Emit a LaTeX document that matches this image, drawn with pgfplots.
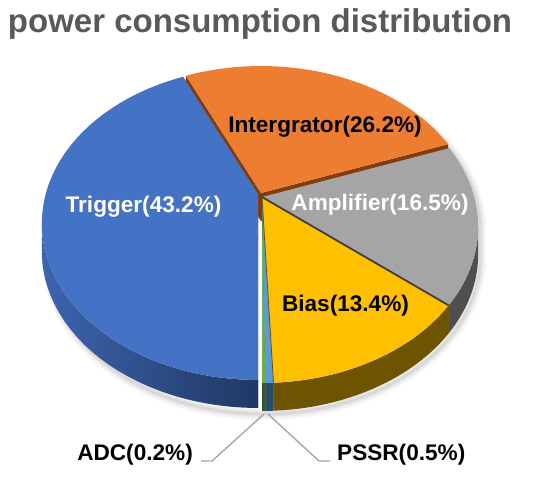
\documentclass[border=0pt]{standalone}
\usepackage{pgfplots}
\pgfplotsset{compat=1.18}
\usepackage{pgfplotstable}
\usepackage{fontspec}
\setmainfont{Liberation Sans}

\definecolor{cTrig}{HTML}{4472C4}
\definecolor{cInt}{HTML}{ED7D31}
\definecolor{cAmp}{HTML}{A5A5A5}
\definecolor{cBias}{HTML}{FFC000}
\definecolor{cPSSR}{HTML}{5B9BD5}
\definecolor{cADC}{HTML}{70AD47}
\definecolor{sTrigA}{HTML}{3E64AE}
\definecolor{sTrigB}{HTML}{1F3864}
\definecolor{sInt}{HTML}{843C0C}
\definecolor{sAmp}{HTML}{4F4F4F}
\definecolor{sBias}{HTML}{6E5400}
\definecolor{sPSSR}{HTML}{2A4D6E}
\definecolor{sADC}{HTML}{375623}
\definecolor{titlegray}{HTML}{595959}
\definecolor{leader}{HTML}{A6A6A6}

\pgfplotsset{
  top0/.style={fill=cTrig}, top1/.style={fill=cInt}, top2/.style={fill=cAmp},
  top3/.style={fill=cBias}, top4/.style={fill=cPSSR}, top5/.style={fill=cADC},
  side0/.style={left color=sTrigA, right color=sTrigB},
  side1/.style={fill=sInt}, side2/.style={fill=sAmp},
  side3/.style={fill=sBias},
  side4/.style={fill=sPSSR}, side5/.style={fill=sADC},
  cut0/.style={fill=sTrigB}, cut1/.style={fill=sInt}, cut2/.style={fill=sAmp},
  cut3/.style={fill=sBias}, cut4/.style={fill=sPSSR}, cut5/.style={fill=sADC},
  edge0/.style={draw=none}, edge1/.style={draw=none},
  edge2/.style={draw=sAmp!80!black, line width=1.8bp},
  edge3/.style={draw=sBias, line width=0.8bp},
  edge4/.style={draw=none}, edge5/.style={draw=none},
}

% share of each part (percent), and small explosion offset of each slice (px)
\pgfplotstableread{
name value dx dy
Trigger 43.2 -4 -3
Intergrator 26.2 -1 -4
Amplifier 16.5 0 0
Bias 13.4 0 0
PSSR 0.5 0 0
ADC 0.2 0 0
}\piedata

% projection of the tilted disc (image pixels, y downwards)
\def\pcx{262}\def\pcy{197}\def\pk{212.3}\def\pkk{150.9}\def\pp{0.1885}\def\pd{28}

\newcommand\addpt[4]{%
  \pgfmathsetmacro\pu{cos(#1)}%
  \pgfmathsetmacro\pv{sin(#1)}%
  \pgfmathsetmacro\pX{\pcx+#2+\pk*\pu/(1+\pp*\pv)}%
  \pgfmathsetmacro\pY{\pcy+#3+#4-\pkk*\pv/(1+\pp*\pv)}%
  \xdef\acc{\acc(\pX,\pY)}%
}
\newcommand\addarc[5]{%
  \pgfmathsetmacro\aspan{(#2)-(#1)}%
  \pgfmathtruncatemacro\nst{max(2,ceil(abs(\aspan)/2))}%
  \foreach \i in {0,...,\nst}{%
    \pgfmathsetmacro\ang{(#1)+\aspan*(\i/\nst)}%
    \addpt{\ang}{#3}{#4}{#5}%
  }%
}
\newcommand\appendplot[2]{%
  \xdef#1{\unexpanded\expandafter{#1}\noexpand\addplot[#2,draw=none] coordinates {\acc}--cycle;}%
}
\newcommand\appendline[2]{%
  \xdef#1{\unexpanded\expandafter{#1}\noexpand\addplot[#2] coordinates {\acc};}%
}
\newcommand\appendloop[2]{%
  \xdef#1{\unexpanded\expandafter{#1}\noexpand\addplot[#2] coordinates {\acc}--cycle;}%
}

% soft shadow round the silhouette
\gdef\acc{}
\addarc{349.1}{550.9}{2}{3}{0}
\addarc{190.9}{349.1}{2}{3}{\pd}
\gdef\shadowcmds{}
\appendloop\shadowcmds{draw=black, opacity=0.035, line width=12bp}
\appendloop\shadowcmds{draw=black, opacity=0.035, line width=8bp}
\appendloop\shadowcmds{draw=black, opacity=0.04, line width=5bp}
\appendloop\shadowcmds{draw=black, opacity=0.05, line width=2.5bp}

\gdef\cum{0}
\gdef\cutcmds{}\gdef\sidecmds{}\gdef\topcmds{}\gdef\edgecmds{}
\foreach \r in {0,...,5}{%
  \pgfplotstablegetelem{\r}{value}\of\piedata\let\sval\pgfplotsretval
  \pgfplotstablegetelem{\r}{dx}\of\piedata\let\sdx\pgfplotsretval
  \pgfplotstablegetelem{\r}{dy}\of\piedata\let\sdy\pgfplotsretval
  \pgfmathsetmacro\aone{-90-3.6*\cum}%
  \pgfmathsetmacro\atwo{-90-3.6*(\cum+\sval)}%
  \pgfmathsetmacro\cX{\pcx+\sdx}%
  \pgfmathsetmacro\cY{\pcy+\sdy}%
  \pgfmathsetmacro\cYb{\pcy+\sdy+\pd}%
  \xdef\acc{(\cX,\cY)}%
  \addarc{\aone}{\atwo}{\sdx}{\sdy}{0}%
  \appendplot\topcmds{top\r}%
  \xdef\acc{(\cX,\cY)}%
  \addpt{\atwo}{\sdx}{\sdy}{0}%
  \appendline\edgecmds{edge\r}%
  \foreach \ca in {\aone,\atwo}{%
    \xdef\acc{(\cX,\cY)}%
    \addpt{\ca}{\sdx}{\sdy}{0}%
    \addpt{\ca}{\sdx}{\sdy}{\pd}%
    \xdef\acc{\acc(\cX,\cYb)}%
    \appendplot\cutcmds{cut\r}%
  }%
  \foreach \w in {0,-360}{%
    \pgfmathsetmacro\hiA{min(\aone,-10.9+\w)}%
    \pgfmathsetmacro\loA{max(\atwo,-169.1+\w)}%
    \pgfmathsetmacro\loB{\loA+0.01}%
    \ifdim\hiA pt>\loB pt
      \gdef\acc{}%
      \addarc{\hiA}{\loA}{\sdx}{\sdy}{0}%
      \addarc{\loA}{\hiA}{\sdx}{\sdy}{\pd}%
      \appendplot\sidecmds{side\r}%
    \fi
  }%
  \pgfmathsetmacro\newcum{\cum+\sval}%
  \xdef\cum{\newcum}%
}

\begin{document}
\begin{tikzpicture}
\begin{axis}[
  scale only axis, width=550bp, height=476bp,
  xmin=0, xmax=550, ymin=0, ymax=476, y dir=reverse,
  hide axis, clip=false,
]
\shadowcmds
\cutcmds
\sidecmds
\topcmds
\edgecmds
% leader lines
\addplot[leader, line width=1.4bp] coordinates {(264,414) (212,461) (201,461)};
\addplot[leader, line width=1.4bp] coordinates {(268,414) (319,461) (330,461)};
% texts
\node[anchor=base, text=titlegray, font=\fontsize{33bp}{40bp}\selectfont\bfseries, inner sep=0pt]
  at (axis cs:260,33) {power consumption distribution};
\node[anchor=base, text=white, font=\fontsize{22.6bp}{27bp}\selectfont\bfseries, inner sep=0pt]
  at (axis cs:143.5,212.5) {Trigger(43.2\%)};
\node[anchor=base, text=black, font=\fontsize{22.6bp}{27bp}\selectfont\bfseries, inner sep=0pt]
  at (axis cs:325,132) {Intergrator(26.2\%)};
\node[anchor=base, text=white, font=\fontsize{22.6bp}{27bp}\selectfont\bfseries, inner sep=0pt]
  at (axis cs:380,210.5) {Amplifier(16.5\%)};
\node[anchor=base, text=black, font=\fontsize{22.6bp}{27bp}\selectfont\bfseries, inner sep=0pt]
  at (axis cs:345.5,311.5) {Bias(13.4\%)};
\node[anchor=base east, text=black, font=\fontsize{22.6bp}{27bp}\selectfont\bfseries, inner sep=0pt]
  at (axis cs:193,460) {ADC(0.2\%)};
\node[anchor=base west, text=black, font=\fontsize{22.6bp}{27bp}\selectfont\bfseries, inner sep=0pt]
  at (axis cs:337,460) {PSSR(0.5\%)};
\end{axis}
\pgfresetboundingbox
\path (current axis.south west) rectangle (current axis.north east);
\end{tikzpicture}
\end{document}
